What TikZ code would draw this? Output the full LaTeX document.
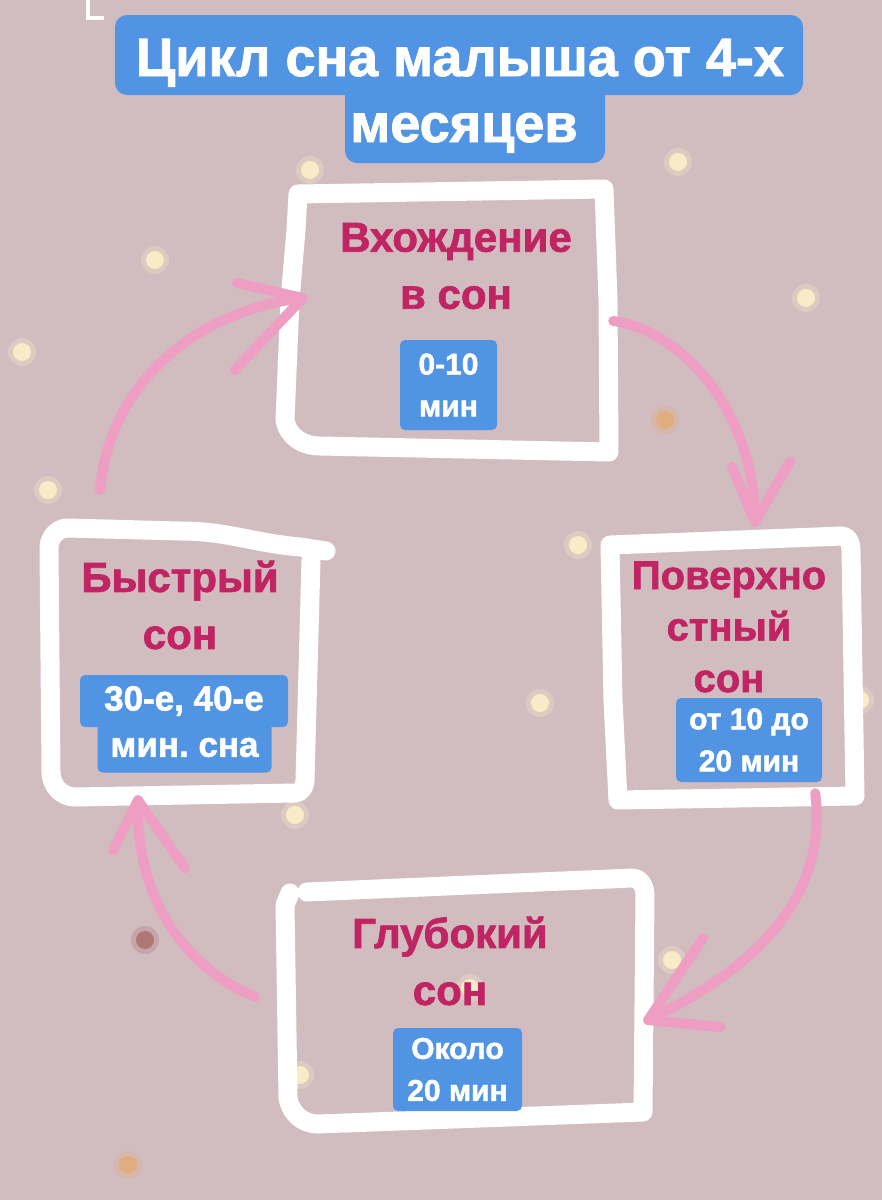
\documentclass[tikz,border=0pt]{standalone}
\usepackage{fontspec}
\setmainfont{Liberation Sans}[BoldFeatures={FakeBold=1.6}]
\usetikzlibrary{positioning}
\definecolor{bgmauve}{RGB}{209,188,192}
\definecolor{titleblue}{RGB}{82,148,228}
\definecolor{headmagenta}{RGB}{192,36,98}
\definecolor{arrowpink}{RGB}{238,157,195}
\definecolor{bokeh}{RGB}{250,240,200}
\definecolor{bokehorange}{RGB}{226,172,125}
\definecolor{bokehbrown}{RGB}{172,115,110}
\frenchspacing

\begin{document}
\begin{tikzpicture}[x=1pt,y=-1pt,
  handbox/.style={draw=white,line width=19pt,line cap=round,line join=round},
  flow/.style={draw=arrowpink,line width=10pt,line cap=round,line join=round},
  zone/.style={shape=rectangle,inner sep=0pt},
  heading/.style={text=headmagenta,align=center,font=\bfseries\fontsize{42}{57}\selectfont},
  timetag/.style={fill=titleblue,text=white,rounded corners=5pt,align=center,inner sep=0pt,font=\bfseries\fontsize{30}{42}\selectfont},
  titletext/.style={text=white,anchor=base,font=\bfseries\fontsize{54}{60}\selectfont}]
	% background and bokeh
	\useasboundingbox (0,0) rectangle (882,1200);
	\fill[bgmauve] (0,0) rectangle (882,1200);
	\foreach \x/\y/\c in {155/260/bokeh,22/352/bokeh,310/170/bokeh,678/162/bokeh,806/298/bokeh,578/545/bokeh,540/703/bokeh,48/490/bokeh,295/815/bokeh,665/420/bokehorange,145/940/bokehbrown,300/1075/bokeh,672/960/bokeh,128/1165/bokehorange,860/700/bokeh,470/988/bokeh}{
		\fill[\c,opacity=0.3] (\x,\y) circle (14pt);
		\fill[\c,opacity=0.9] (\x,\y) circle (9pt);
	}
	\draw[white,line width=4pt] (88,0) -- (88,18) -- (104,18);

	% title
	\fill[titleblue,rounded corners=12pt] (345,80) rectangle (605,163);
	\fill[titleblue,rounded corners=12pt] (115,15) rectangle (803,95);
	\node[titletext] (title1) at (460,76) {Цикл сна малыша от 4-х};
	\node[titletext] (title2) at (464,142) {месяцев};

	% the four stages
	\node[zone,minimum width=318pt,minimum height=262pt] (entry) at (449,321) {};
	\node[zone,minimum width=240pt,minimum height=257pt] (light) at (731,668.5) {};
	\node[zone,minimum width=358pt,minimum height=238pt] (deep) at (464,1001) {};
	\node[zone,minimum width=260pt,minimum height=266pt] (rem) at (179,662) {};

	% hand drawn frames
	\draw[handbox] (298,194) -- (604,189) -- (608,300) -- (609,452) -- (320,446) to[out=180,in=-80] (285,420) -- (290,300) -- (296,230) -- cycle;
	\draw[handbox] (610,545) -- (842,536) to[out=0,in=90] (851,550) -- (855,796) -- (618,800) -- (613,700) -- cycle;
	\draw[handbox] (307,892) -- (632,878) to[out=0,in=90] (645,895) -- (643,1112) -- (318,1124) to[out=180,in=-80] (288,1098) -- (285,905) -- (290,893);
	\draw[handbox] (326,551) -- (300,547) to[out=175,in=0] (180,531) -- (68,528) to[out=180,in=90] (49,548) -- (51,772) to[out=-90,in=180] (75,797) -- (295,793) to[out=0,in=-90] (305,780) -- (311,560);

	% texts
	\node[heading] (entryhead) at (456,266) {Вхождение\\в сон};
	\node[timetag,minimum width=97pt,minimum height=90pt] (entrytag) at (448.5,385) {0-10\\мин};
	\node[heading,font=\bfseries\fontsize{40}{51.5}\selectfont] (lighthead) at (729,627) {Поверхно\\стный\\сон};
	\node[timetag,minimum width=146pt,minimum height=84pt] (lighttag) at (749,740) {от 10 до\\20 мин};
	\node[heading] (deephead) at (450,961) {Глубокий\\сон};
	\node[timetag,minimum width=129pt,minimum height=83pt] (deeptag) at (457.5,1069.5) {Около\\20 мин};
	\node[heading] (remhead) at (180,605) {Быстрый\\сон};
	\node[timetag,font=\bfseries\fontsize{35}{42}\selectfont,minimum width=208pt,minimum height=52pt] (remtag) at (184,701) {30-е, 40-е};
	\node[timetag,font=\bfseries\fontsize{35}{42}\selectfont,minimum width=174pt,minimum height=50pt] (remtag2) at (184.5,747.5) {мин. сна};

	% arrows of the cycle
	\draw[flow] ([xshift=5pt]entry.east) .. controls +(67,9) and +(0,-112) .. ([xshift=24pt,yshift=18pt]light.north) coordinate (tip1);
	\draw[flow] (tip1) -- +(-23,-55) (tip1) -- +(35,-60);
	\draw[flow] ([xshift=-36pt,yshift=4pt]light.south east) .. controls +(15,120) and +(82,-40) .. ([xshift=5pt,yshift=-19pt]deep.east) coordinate (tip2);
	\draw[flow] (tip2) -- +(55,-82) (tip2) -- +(72,7);
	\draw[flow] ([xshift=-30pt,yshift=4pt]deep.west) .. controls +(-85,-37) and +(-3,80) .. ([xshift=-41pt,yshift=-5pt]rem.south) coordinate (tip3);
	\draw[flow] (tip3) -- +(-25,50) (tip3) -- +(47,68);
	\draw[flow] ([xshift=-79pt,yshift=39pt]rem.north) .. controls +(10,-110) and +(-103,12) .. ([xshift=13pt,yshift=23pt]entry.west) coordinate (tip4);
	\draw[flow] (tip4) -- +(-66,-15) (tip4) -- +(-68,72);
\end{tikzpicture}
\end{document}
